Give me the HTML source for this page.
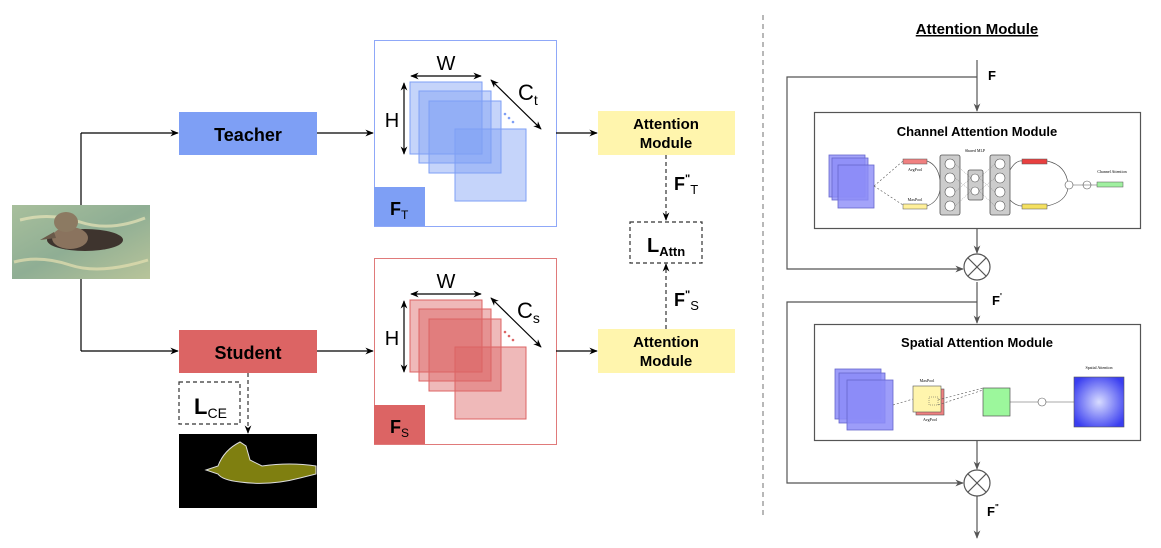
<!DOCTYPE html>
<html><head><meta charset="utf-8"><style>
body{margin:0;background:#fff}
svg{display:block;font-family:"Liberation Sans",Arial,sans-serif}
</style></head><body>
<svg width="1161" height="548" viewBox="0 0 1161 548" xmlns="http://www.w3.org/2000/svg">
<defs>
<marker id="a" viewBox="0 0 10 10" refX="9" refY="5" markerWidth="7" markerHeight="7" orient="auto-start-reverse"><path d="M0,1 L10,5 L0,9 L3,5 z" fill="#000"/></marker>
<marker id="g" viewBox="0 0 10 10" refX="9" refY="5" markerWidth="7" markerHeight="7" orient="auto"><path d="M0,1 L10,5 L0,9 L3,5 z" fill="#555"/></marker>
<linearGradient id="water" x1="0" y1="0" x2="1" y2="1"><stop offset="0" stop-color="#a8bf9c"/><stop offset="0.5" stop-color="#8fae94"/><stop offset="1" stop-color="#b8c49a"/></linearGradient>
<radialGradient id="sp" cx="0.5" cy="0.5" r="0.6"><stop offset="0" stop-color="#d8dcff"/><stop offset="1" stop-color="#3a3ef0"/></radialGradient>
</defs>

<!-- duck image -->
<rect x="12" y="205" width="138" height="74" fill="url(#water)"/>
<path d="M20,220 Q50,212 80,222 T145,218" stroke="#e8e4b8" stroke-width="3" fill="none" opacity=".7"/>
<path d="M14,262 Q40,255 70,265 T148,260" stroke="#e6e0b0" stroke-width="3" fill="none" opacity=".7"/>
<ellipse cx="85" cy="240" rx="38" ry="11" fill="#3e342e"/>
<ellipse cx="70" cy="238" rx="18" ry="11" fill="#8a735e"/>
<ellipse cx="66" cy="222" rx="12" ry="10" fill="#8c7a62"/>
<path d="M54,232 L40,240 L56,238z" fill="#6a5a4a"/>

<!-- connectors left -->
<line x1="81" y1="133" x2="81" y2="205" stroke="#000" stroke-width="1.2"/>
<line x1="81" y1="279" x2="81" y2="351" stroke="#000" stroke-width="1.2"/>
<line x1="81" y1="133" x2="178" y2="133" stroke="#000" stroke-width="1.2" marker-end="url(#a)"/>
<line x1="81" y1="351" x2="178" y2="351" stroke="#000" stroke-width="1.2" marker-end="url(#a)"/>

<rect x="179" y="112" width="138" height="43" fill="#7e9ff5"/>
<text x="248" y="141" font-size="18" font-weight="bold" text-anchor="middle">Teacher</text>
<rect x="179" y="330" width="138" height="43" fill="#dc6464"/>
<text x="248" y="359" font-size="18" font-weight="bold" text-anchor="middle">Student</text>

<line x1="317" y1="133" x2="373" y2="133" stroke="#000" stroke-width="1.2" marker-end="url(#a)"/>
<line x1="317" y1="351" x2="373" y2="351" stroke="#000" stroke-width="1.2" marker-end="url(#a)"/>

<!-- LCE -->
<rect x="179" y="382" width="61" height="42" fill="none" stroke="#333" stroke-dasharray="4,3" stroke-width="1.2"/>
<text x="194" y="414" font-size="22" font-weight="bold">L<tspan font-size="14" font-weight="normal" dy="4">CE</tspan></text>
<line x1="248" y1="373" x2="248" y2="433" stroke="#333" stroke-dasharray="4,3" stroke-width="1.2" marker-end="url(#a)"/>
<rect x="179" y="434" width="138" height="74" fill="#000"/>
<path d="M206,470 L218,466 Q224,450 240,442 L246,446 L250,460 L262,466 Q290,462 316,466 L316,474 L300,478 Q270,486 240,482 Q222,480 218,474 Z" fill="#7f7f10" stroke="#ddd" stroke-width="1"/>

<!-- Teacher feature -->
<rect x="374.5" y="40.5" width="182" height="186" fill="#fff" stroke="#8fa8f8" stroke-width="1"/>
<rect x="374" y="187" width="51" height="39" fill="#7e9ff5"/>
<text x="390" y="215" font-size="18" font-weight="bold">F<tspan font-size="12" font-weight="normal" dy="4">T</tspan></text>
<g fill="#7e9ff5" fill-opacity=".45" stroke="#7e9ff5" stroke-width="1">
<rect x="410" y="82" width="72" height="72"/><rect x="419" y="91" width="72" height="72"/><rect x="429" y="101" width="72" height="72"/><rect x="455" y="129" width="71" height="72"/></g>
<g fill="#7e9ff5"><circle cx="505" cy="114" r="1.3"/><circle cx="509" cy="118" r="1.3"/><circle cx="513" cy="122" r="1.3"/></g>
<line x1="411" y1="76" x2="481" y2="76" stroke="#000" stroke-width="1.2" marker-start="url(#a)" marker-end="url(#a)"/>
<text x="446" y="70" font-size="20" text-anchor="middle">W</text>
<line x1="404" y1="83" x2="404" y2="154" stroke="#000" stroke-width="1.2" marker-start="url(#a)" marker-end="url(#a)"/>
<text x="392" y="127" font-size="20" text-anchor="middle">H</text>
<line x1="491" y1="80" x2="541" y2="129" stroke="#000" stroke-width="1.2" marker-start="url(#a)" marker-end="url(#a)"/>
<text x="518" y="100" font-size="22">C<tspan font-size="14" dy="5">t</tspan></text>

<!-- Student feature -->
<rect x="374.5" y="258.5" width="182" height="186" fill="#fff" stroke="#e07a7a" stroke-width="1"/>
<rect x="374" y="405" width="51" height="39" fill="#dc6464"/>
<text x="390" y="433" font-size="18" font-weight="bold">F<tspan font-size="12" font-weight="normal" dy="4">S</tspan></text>
<g fill="#dc6464" fill-opacity=".45" stroke="#dc6464" stroke-width="1">
<rect x="410" y="300" width="72" height="72"/><rect x="419" y="309" width="72" height="72"/><rect x="429" y="319" width="72" height="72"/><rect x="455" y="347" width="71" height="72"/></g>
<g fill="#dc6464"><circle cx="505" cy="332" r="1.3"/><circle cx="509" cy="336" r="1.3"/><circle cx="513" cy="340" r="1.3"/></g>
<line x1="411" y1="294" x2="481" y2="294" stroke="#000" stroke-width="1.2" marker-start="url(#a)" marker-end="url(#a)"/>
<text x="446" y="288" font-size="20" text-anchor="middle">W</text>
<line x1="404" y1="301" x2="404" y2="372" stroke="#000" stroke-width="1.2" marker-start="url(#a)" marker-end="url(#a)"/>
<text x="392" y="345" font-size="20" text-anchor="middle">H</text>
<line x1="491" y1="298" x2="541" y2="347" stroke="#000" stroke-width="1.2" marker-start="url(#a)" marker-end="url(#a)"/>
<text x="517" y="318" font-size="22">C<tspan font-size="14" dy="5">s</tspan></text>

<line x1="556" y1="133" x2="597" y2="133" stroke="#000" stroke-width="1.2" marker-end="url(#a)"/>
<line x1="556" y1="351" x2="597" y2="351" stroke="#000" stroke-width="1.2" marker-end="url(#a)"/>

<rect x="598" y="111" width="137" height="44" fill="#fff5ad"/>
<text x="666" y="129" font-size="15" font-weight="bold" text-anchor="middle">Attention</text>
<text x="666" y="148" font-size="15" font-weight="bold" text-anchor="middle">Module</text>
<rect x="598" y="329" width="137" height="44" fill="#fff5ad"/>
<text x="666" y="347" font-size="15" font-weight="bold" text-anchor="middle">Attention</text>
<text x="666" y="366" font-size="15" font-weight="bold" text-anchor="middle">Module</text>

<line x1="666" y1="155" x2="666" y2="220" stroke="#333" stroke-dasharray="4,3" stroke-width="1.2" marker-end="url(#a)"/>
<line x1="666" y1="329" x2="666" y2="264" stroke="#333" stroke-dasharray="4,3" stroke-width="1.2" marker-end="url(#a)"/>
<text x="674" y="190" font-size="18" font-weight="bold">F<tspan font-size="11" dy="-8">"</tspan><tspan font-size="13" font-weight="normal" dy="12">T</tspan></text>
<text x="674" y="306" font-size="18" font-weight="bold">F<tspan font-size="11" dy="-8">"</tspan><tspan font-size="13" font-weight="normal" dy="12">S</tspan></text>
<rect x="630" y="222" width="72" height="41" fill="#fff" stroke="#333" stroke-dasharray="4,3" stroke-width="1.2"/>
<text x="647" y="252" font-size="20" font-weight="bold">L<tspan font-size="13" dy="4">Attn</tspan></text>

<!-- divider -->
<line x1="763" y1="15" x2="763" y2="515" stroke="#888" stroke-dasharray="5,4" stroke-width="1.2"/>

<!-- right attention module -->
<text x="977" y="34" font-size="15" font-weight="bold" text-anchor="middle" text-decoration="underline">Attention Module</text>
<g stroke="#555" stroke-width="1.2" fill="none">
<line x1="977" y1="60" x2="977" y2="111" marker-end="url(#g)"/>
<polyline points="977,77 787,77 787,269 963,269" marker-end="url(#g)"/>
<line x1="977" y1="229" x2="977" y2="253" marker-end="url(#g)"/>
<line x1="977" y1="282" x2="977" y2="323" marker-end="url(#g)"/>
<polyline points="977,302 787,302 787,483 963,483" marker-end="url(#g)"/>
<line x1="977" y1="440" x2="977" y2="469" marker-end="url(#g)"/>
<line x1="977" y1="496" x2="977" y2="538" marker-end="url(#g)"/>
<circle cx="977" cy="267" r="13"/><line x1="968" y1="258" x2="986" y2="276"/><line x1="986" y1="258" x2="968" y2="276"/>
<circle cx="977" cy="483" r="13"/><line x1="968" y1="474" x2="986" y2="492"/><line x1="986" y1="474" x2="968" y2="492"/>
</g>
<text x="988" y="80" font-size="13" font-weight="bold">F</text>
<text x="992" y="305" font-size="13" font-weight="bold">F<tspan font-size="8" dy="-6">'</tspan></text>
<text x="987" y="516" font-size="13" font-weight="bold">F<tspan font-size="8" dy="-6">"</tspan></text>

<!-- Channel attention box -->
<rect x="814.5" y="112.5" width="326" height="116" fill="#fff" stroke="#555" stroke-width="1.2"/>
<text x="977" y="136" font-size="13" font-weight="bold" text-anchor="middle">Channel Attention Module</text>
<g fill="#8c8cf8" fill-opacity=".8" stroke="#6666cc" stroke-width=".8">
<rect x="829" y="155" width="36" height="42"/><rect x="832" y="158" width="36" height="42"/><rect x="838" y="165" width="36" height="43"/></g>
<g stroke="#555" stroke-width=".6" stroke-dasharray="2,2" fill="none"><path d="M874,186 L903,161 M874,186 L903,205"/></g>
<rect x="903" y="159" width="24" height="5" fill="#f08080" stroke="#555" stroke-width=".5"/>
<rect x="903" y="204" width="24" height="5" fill="#fff09a" stroke="#555" stroke-width=".5"/>
<text x="915" y="171" font-size="4" text-anchor="middle" font-family="Liberation Serif">AvgPool</text>
<text x="915" y="201" font-size="4" text-anchor="middle" font-family="Liberation Serif">MaxPool</text>
<path d="M927,161 Q938,165 940,180 M927,206 Q938,202 940,190" stroke="#555" stroke-width=".7" fill="none"/>
<rect x="940" y="155" width="20" height="60" rx="2" fill="#ccc" stroke="#555" stroke-width=".8"/>
<rect x="968" y="170" width="15" height="30" rx="2" fill="#ccc" stroke="#555" stroke-width=".8"/>
<rect x="990" y="155" width="20" height="60" rx="2" fill="#ccc" stroke="#555" stroke-width=".8"/>
<g stroke="#555" stroke-width=".4" stroke-dasharray="1,1"><path d="M955,164 L971,178 M955,178 L971,191 M955,192 L971,178 M955,206 L971,191 M979,178 L995,164 M979,178 L995,192 M979,191 L995,178 M979,191 L995,206"/></g>
<g fill="#fff" stroke="#555" stroke-width=".6">
<circle cx="950" cy="164" r="5"/><circle cx="950" cy="178" r="5"/><circle cx="950" cy="192" r="5"/><circle cx="950" cy="206" r="5"/>
<circle cx="975" cy="178" r="4"/><circle cx="975" cy="191" r="4"/>
<circle cx="1000" cy="164" r="5"/><circle cx="1000" cy="178" r="5"/><circle cx="1000" cy="192" r="5"/><circle cx="1000" cy="206" r="5"/></g>
<text x="975" y="152" font-size="4" text-anchor="middle" font-family="Liberation Serif">Shared MLP</text>
<rect x="1022" y="159" width="25" height="5" fill="#e84040" stroke="#555" stroke-width=".5"/>
<rect x="1022" y="204" width="25" height="5" fill="#f4e060" stroke="#555" stroke-width=".5"/>
<path d="M1010,170 Q1016,160 1022,161 M1010,200 Q1016,206 1022,206 M1047,161 Q1066,165 1068,184 M1047,206 Q1066,202 1068,188" stroke="#555" stroke-width=".7" fill="none"/>
<circle cx="1069" cy="185" r="4" fill="#fff" stroke="#555" stroke-width=".6"/>
<circle cx="1087" cy="185" r="4" fill="#fff" stroke="#555" stroke-width=".6"/>
<line x1="1073" y1="185" x2="1097" y2="185" stroke="#555" stroke-width=".6"/>
<rect x="1097" y="182" width="26" height="5" fill="#a0f0a0" stroke="#555" stroke-width=".5"/>
<text x="1112" y="173" font-size="4" text-anchor="middle" font-family="Liberation Serif">Channel Attention</text>

<!-- Spatial attention box -->
<rect x="814.5" y="324.5" width="326" height="116" fill="#fff" stroke="#555" stroke-width="1.2"/>
<text x="977" y="347" font-size="13" font-weight="bold" text-anchor="middle">Spatial Attention Module</text>
<g fill="#8c8cf8" fill-opacity=".85" stroke="#6666cc" stroke-width=".8">
<rect x="835" y="369" width="46" height="50"/><rect x="839" y="373" width="46" height="50"/><rect x="847" y="380" width="46" height="50"/></g>
<rect x="916" y="389" width="28" height="26" fill="#f08080" stroke="#555" stroke-width=".6"/>
<rect x="913" y="386" width="28" height="26" fill="#fff5ad" stroke="#555" stroke-width=".6"/>
<rect x="929" y="397" width="9" height="8" fill="none" stroke="#555" stroke-width=".5" stroke-dasharray="1,1"/>
<text x="927" y="382" font-size="4" text-anchor="middle" font-family="Liberation Serif">MaxPool</text>
<text x="930" y="421" font-size="4" text-anchor="middle" font-family="Liberation Serif">AvgPool</text>
<path d="M893,405 L913,399 M938,400 L983,388 M938,405 L983,390" stroke="#555" stroke-width=".6" stroke-dasharray="2,2" fill="none"/>
<rect x="983" y="388" width="27" height="28" fill="#9cf79c" stroke="#555" stroke-width=".7"/>
<line x1="1010" y1="402" x2="1074" y2="402" stroke="#555" stroke-width=".6"/>
<circle cx="1042" cy="402" r="4" fill="#fff" stroke="#555" stroke-width=".6"/>
<rect x="1074" y="377" width="50" height="50" fill="url(#sp)" stroke="#555" stroke-width=".6"/>
<text x="1099" y="369" font-size="4" text-anchor="middle" font-family="Liberation Serif">Spatial Attention</text>
</svg>
</body></html>
